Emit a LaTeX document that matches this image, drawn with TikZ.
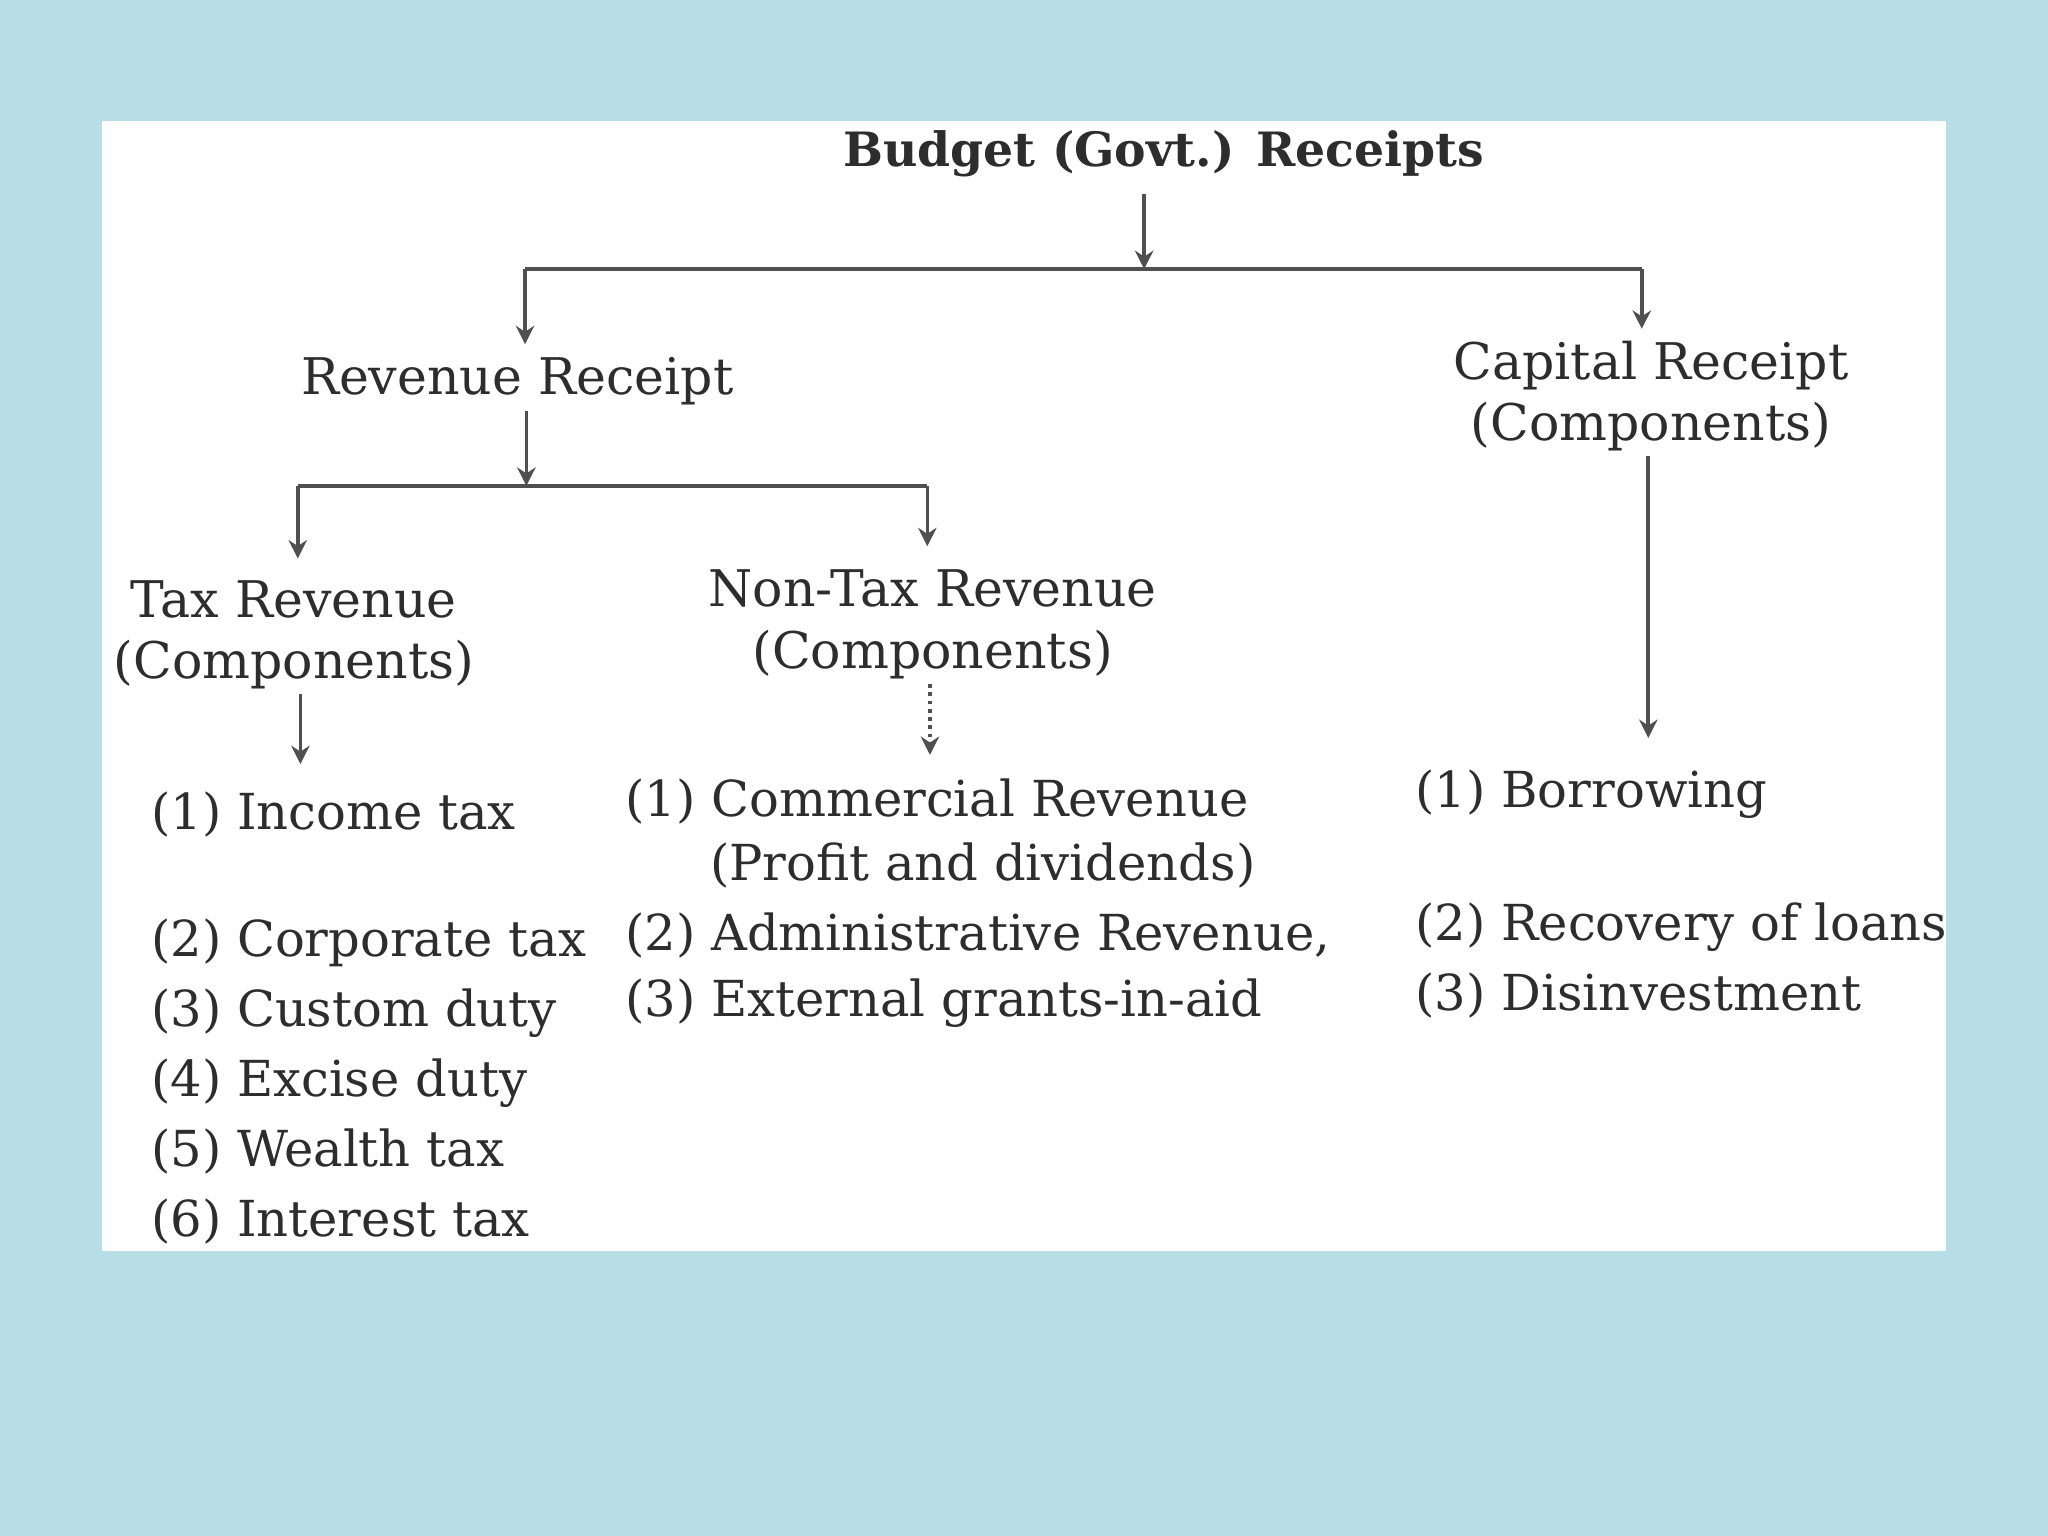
\documentclass[tikz,border=0pt]{standalone}
\usepackage{fontspec}
\setmainfont{DejaVu Serif}
\usetikzlibrary{arrows.meta}
\definecolor{bgblue}{RGB}{183,221,230}
\definecolor{ink}{RGB}{45,45,45}
\definecolor{wirec}{RGB}{80,80,80}
\begin{document}
\begin{tikzpicture}[x=0.01cm,y=-0.01cm,
  lbl/.style={font=\fontsize{11}{13.3}\selectfont, text=ink, inner sep=1pt, align=center},
  item/.style={font=\fontsize{10.8}{13}\selectfont, text=ink, inner sep=0pt, anchor=west},
  wire/.style={draw=wirec, line width=0.8pt},
  arr/.style={wire, -{Stealth[length=4pt,width=4pt]}}]
\fill[bgblue] (0,0) rectangle (1568,1176);
\useasboundingbox (0,0) rectangle (1568,1176);
\fill[white] (78,93) rectangle (1490,958);

\node[font=\bfseries\fontsize{10.3}{12}\selectfont, text=ink] (title) at (891,118) {Budget (Govt.) Receipts};
\node[lbl] (rr) at (396,292) {Revenue Receipt};
\node[lbl] (cr) at (1264,303) {Capital Receipt\\(Components)};
\node[lbl] (tr) at (225,486) {Tax Revenue\\(Components)};
\node[lbl] (nt) at (714,478) {Non-Tax Revenue\\(Components)};

\node[item] (t1) at (115,624) {(1) Income tax};
\node[item] (t2) at (115,722) {(2) Corporate tax};
\node[item] (t3) at (115,776) {(3) Custom duty};
\node[item] (t4) at (115,829) {(4) Excise duty};
\node[item] (t5) at (115,882) {(5) Wealth tax};
\node[item] (t6) at (115,935) {(6) Interest tax};

\node[item] (n1) at (478,614) {(1) Commercial Revenue};
\node[item] (n1b) at (543,663) {(Profit and dividends)};
\node[item] (n2) at (478,716) {(2) Administrative Revenue,};
\node[item] (n3) at (478,768) {(3) External grants-in-aid};

\node[item] (c1) at (1083,608) {(1) Borrowing};
\node[item] (c2) at (1083,710) {(2) Recovery of loans};
\node[item] (c3) at (1083,762) {(3) Disinvestment};

\coordinate (j1) at (876,206);
\coordinate (j1l) at (402,206);
\coordinate (j1r) at (1257,206);
\draw[arr] (title.south -| j1) -- (j1);
\draw[wire] (j1l) -- (j1r);
\draw[arr, shorten >=1.7pt] (j1l) -- (j1l |- rr.north);
\draw[arr, shorten >=1.4pt] (j1r) -- (j1r |- cr.north);

\coordinate (j2) at (403,372);
\coordinate (j2l) at (228,372);
\coordinate (j2r) at (710,372);
\draw[arr] (rr.south -| j2) -- (j2);
\draw[wire] (j2l) -- (j2r);
\draw[arr, shorten >=3.6pt] (j2l) -- (j2l |- tr.north);
\draw[arr, shorten >=4pt] (j2r) -- (j2r |- nt.north);

\draw[arr] (tr.south -| 230,0) -- (230,585);
\draw[arr, densely dotted] (nt.south -| 712,0) -- (712,578);
\draw[arr] (cr.south -| 1262,0) -- (1262,565);
\end{tikzpicture}
\end{document}
